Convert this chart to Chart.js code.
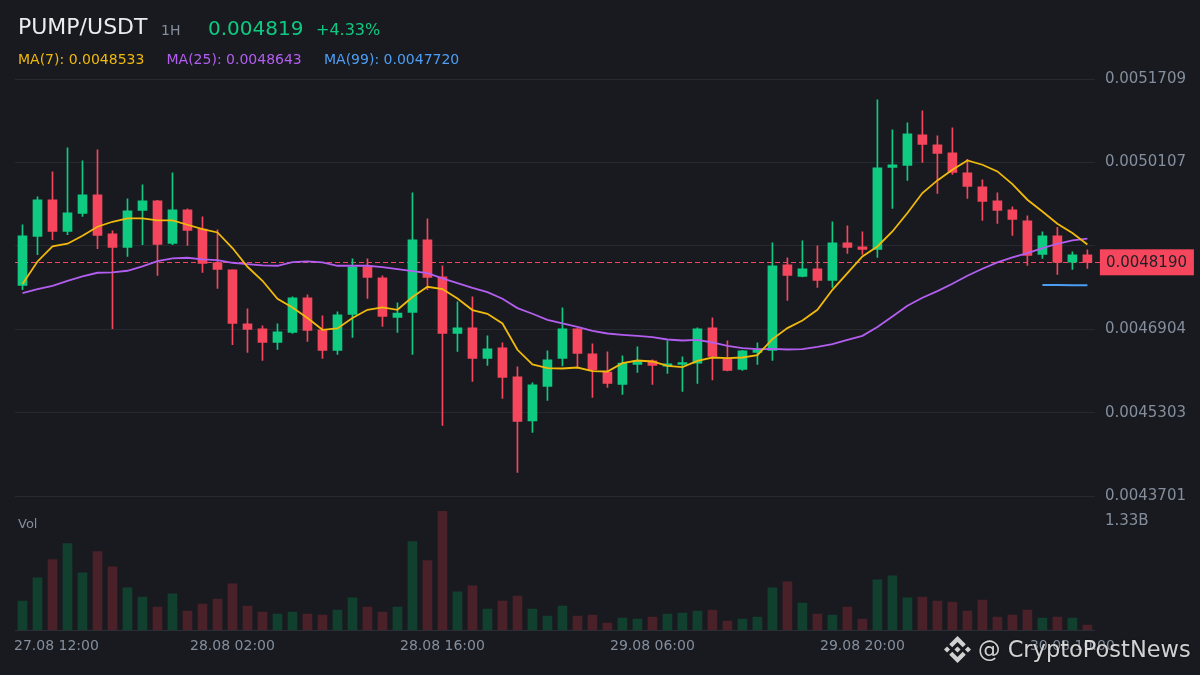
<!DOCTYPE html>
<html>
<head>
<meta charset="utf-8">
<script src="https://cdn.jsdelivr.net/npm/chart.js@4.4.0/dist/chart.umd.min.js"></script>
<style>
  html, body { margin: 0; padding: 0; background: #181a1f; }
  #wrap { position: relative; width: 1200px; height: 675px; font-family: "DejaVu Sans", sans-serif; }
  #c { position: absolute; left: 0; top: 0; }
  .t { position: absolute; line-height: 1; white-space: nowrap; }
  .wm { position: absolute; left: 944px; top: 636px; display: flex; align-items: center; opacity: 0.9; }
  .wm span { font-size: 22.5px; line-height: 1; color: #e6e6e6; margin-left: 7px; text-shadow: 0 0 2px rgba(0,0,0,0.7); }
</style>
</head>
<body>
<div id="wrap">
  <canvas id="c" width="1200" height="675"></canvas>
  <div class="t" style="left:18px;top:16px;font-size:22px;color:#eaecef;">PUMP/USDT</div>
  <div class="t" style="left:161px;top:23px;font-size:14px;color:#848e9c;">1H</div>
  <div class="t" style="left:208px;top:18px;font-size:20px;color:#0ecb81;">0.004819</div>
  <div class="t" style="left:316px;top:21.5px;font-size:16px;color:#0ecb81;">+4.33%</div>
  <div class="t" style="left:18px;top:51.5px;font-size:14px;color:#f0b90b;">MA(7): 0.0048533</div>
  <div class="t" style="left:166.5px;top:51.5px;font-size:14px;color:#b35ef0;">MA(25): 0.0048643</div>
  <div class="t" style="left:324px;top:51.5px;font-size:14px;color:#4d9ef5;">MA(99): 0.0047720</div>
  <div class="t" style="left:18px;top:517px;font-size:13px;color:#848e9c;">Vol</div>
  <div class="wm">
    <svg width="27" height="27" viewBox="0 0 126.61 126.61"><g fill="#e6e6e6">
      <path d="M38.73 53.2l24.59-24.58 24.6 24.6 14.3-14.31L63.32 0 24.42 38.9z"/>
      <path d="M0 63.31l14.3-14.31 14.31 14.31-14.31 14.3z"/>
      <path d="M38.73 73.41l24.59 24.59 24.6-24.6 14.31 14.29-38.9 38.91-38.91-38.88z"/>
      <path d="M98 63.31l14.3-14.31 14.31 14.3-14.31 14.32z"/>
      <path d="M77.83 63.3L63.32 48.78 52.59 59.51l-1.24 1.23-2.54 2.54 14.51 14.5 14.51-14.47z"/>
    </g></svg>
    <span>@ CryptoPostNews</span>
  </div>
</div>
<script>
// hourly candles, 27.08 12:00 .. 30.08 11:00
var timeLabels = [
  '27.08 12:00', '27.08 13:00', '27.08 14:00', '27.08 15:00', '27.08 16:00', '27.08 17:00',
  '27.08 18:00', '27.08 19:00', '27.08 20:00', '27.08 21:00', '27.08 22:00', '27.08 23:00',
  '28.08 00:00', '28.08 01:00', '28.08 02:00', '28.08 03:00', '28.08 04:00', '28.08 05:00',
  '28.08 06:00', '28.08 07:00', '28.08 08:00', '28.08 09:00', '28.08 10:00', '28.08 11:00',
  '28.08 12:00', '28.08 13:00', '28.08 14:00', '28.08 15:00', '28.08 16:00', '28.08 17:00',
  '28.08 18:00', '28.08 19:00', '28.08 20:00', '28.08 21:00', '28.08 22:00', '28.08 23:00',
  '29.08 00:00', '29.08 01:00', '29.08 02:00', '29.08 03:00', '29.08 04:00', '29.08 05:00',
  '29.08 06:00', '29.08 07:00', '29.08 08:00', '29.08 09:00', '29.08 10:00', '29.08 11:00',
  '29.08 12:00', '29.08 13:00', '29.08 14:00', '29.08 15:00', '29.08 16:00', '29.08 17:00',
  '29.08 18:00', '29.08 19:00', '29.08 20:00', '29.08 21:00', '29.08 22:00', '29.08 23:00',
  '30.08 00:00', '30.08 01:00', '30.08 02:00', '30.08 03:00', '30.08 04:00', '30.08 05:00',
  '30.08 06:00', '30.08 07:00', '30.08 08:00', '30.08 09:00', '30.08 10:00', '30.08 11:00'
];

var opens = [
  0.00477454, 0.00486864, 0.00493911, 0.00487824, 0.00491281, 0.00494872, 0.00487382, 0.00484751,
  0.00491857, 0.00493719, 0.00485519, 0.00491991, 0.00488285, 0.00481871, 0.00480469, 0.00470099,
  0.00469139, 0.00466508, 0.00468428, 0.00475092, 0.00468946, 0.00464971, 0.00471885, 0.00481045,
  0.00478932, 0.00471309, 0.00472269, 0.00486230, 0.00479125, 0.00468236, 0.00469331, 0.00463435,
  0.00465490, 0.00459921, 0.00451471, 0.00458058, 0.00463435, 0.00469139, 0.00464338, 0.00460823,
  0.00458442, 0.00462283, 0.00462993, 0.00461976, 0.00462283, 0.00462552, 0.00469331, 0.00463435,
  0.00461323, 0.00464587, 0.00464971, 0.00481429, 0.00479182, 0.00480661, 0.00478414, 0.00485654,
  0.00484886, 0.00484367, 0.00500114, 0.00500498, 0.00506394, 0.00504474, 0.00502937, 0.00499096,
  0.00496408, 0.00493719, 0.00491991, 0.00489879, 0.00483407, 0.00486998, 0.00481947, 0.00483349
];
var highs = [
  0.00489110, 0.00494488, 0.00499289, 0.00503897, 0.00501401, 0.00503513, 0.00487958, 0.00494103,
  0.00496792, 0.00493800, 0.00499096, 0.00492183, 0.00490647, 0.00488150, 0.00480469, 0.00472979,
  0.00469715, 0.00470099, 0.00475284, 0.00475668, 0.00471635, 0.00472403, 0.00482581, 0.00482581,
  0.00479317, 0.00474132, 0.00495256, 0.00490263, 0.00481237, 0.00474324, 0.00475284, 0.00467794,
  0.00466450, 0.00461841, 0.00458768, 0.00464914, 0.00473171, 0.00469200, 0.00466258, 0.00464722,
  0.00463954, 0.00465682, 0.00463185, 0.00466834, 0.00463761, 0.00469331, 0.00471251, 0.00466834,
  0.00465000, 0.00466450, 0.00485654, 0.00482773, 0.00486038, 0.00485078, 0.00489687, 0.00488918,
  0.00487766, 0.00513115, 0.00507354, 0.00508698, 0.00511003, 0.00506202, 0.00507738, 0.00501651,
  0.00497752, 0.00495256, 0.00492567, 0.00490839, 0.00487766, 0.00488592, 0.00483925, 0.00484310
];
var lows = [
  0.00476628, 0.00483349, 0.00486230, 0.00487190, 0.00490704, 0.00484502, 0.00469139, 0.00483023,
  0.00485270, 0.00479374, 0.00485270, 0.00485135, 0.00479950, 0.00476878, 0.00466066, 0.00464587,
  0.00463051, 0.00465163, 0.00468236, 0.00466700, 0.00463435, 0.00464203, 0.00467468, 0.00474957,
  0.00469580, 0.00468428, 0.00464203, 0.00476628, 0.00450568, 0.00464779, 0.00459018, 0.00462091,
  0.00455753, 0.00441543, 0.00449224, 0.00455369, 0.00462033, 0.00461591, 0.00455946, 0.00457866,
  0.00456522, 0.00460746, 0.00458442, 0.00460554, 0.00457098, 0.00458634, 0.00459345, 0.00461050,
  0.00461131, 0.00462283, 0.00463051, 0.00474573, 0.00479100, 0.00477070, 0.00477070, 0.00483599,
  0.00483407, 0.00482831, 0.00492241, 0.00497618, 0.00501074, 0.00495121, 0.00498770, 0.00494161,
  0.00489936, 0.00489360, 0.00487056, 0.00481295, 0.00482639, 0.00479566, 0.00480526, 0.00480718
];
var closes = [
  0.00486998, 0.00493911, 0.00487824, 0.00491415, 0.00494872, 0.00487056, 0.00484751, 0.00491799,
  0.00493719, 0.00485327, 0.00491991, 0.00488016, 0.00481679, 0.00480526, 0.00470156, 0.00469004,
  0.00466508, 0.00468562, 0.00475092, 0.00468812, 0.00464971, 0.00471827, 0.00481045, 0.00478990,
  0.00471501, 0.00472154, 0.00486230, 0.00478990, 0.00468236, 0.00469331, 0.00463435, 0.00465298,
  0.00459786, 0.00451337, 0.00458384, 0.00463185, 0.00469139, 0.00464395, 0.00461265, 0.00458634,
  0.00462552, 0.00463051, 0.00462091, 0.00462417, 0.00462667, 0.00469139, 0.00463819, 0.00461131,
  0.00464914, 0.00465106, 0.00481237, 0.00479374, 0.00480661, 0.00478414, 0.00485654, 0.00484751,
  0.00484367, 0.00500057, 0.00500633, 0.00506586, 0.00504531, 0.00502803, 0.00499154, 0.00496466,
  0.00493585, 0.00491857, 0.00490128, 0.00483215, 0.00486998, 0.00481871, 0.00483349, 0.00481900
];

// volume in millions
var volumesM = [
  327, 586, 789, 969, 642, 879, 710, 473, 372, 259, 406, 214, 293, 349, 518, 270, 203, 180,
  203, 180, 169, 225, 361, 259, 203, 259, 992, 778, 1330, 428, 496, 237, 327, 383, 237, 158,
  270, 158, 169, 79, 135, 124, 147, 180, 192, 214, 225, 101, 124, 147, 473, 541, 304, 180,
  169, 259, 124, 564, 609, 361, 372, 327, 316, 214, 338, 147, 169, 225, 135, 147, 135, 56
];

var ma7 = [
  0.00477723, 0.00482063, 0.00484943, 0.00485462, 0.00486998, 0.00488726, 0.00489687, 0.00490320,
  0.00490320, 0.00489936, 0.00489936, 0.00489110, 0.00488285, 0.00487632, 0.00484636, 0.00481045,
  0.00478356, 0.00474900, 0.00473229, 0.00471193, 0.00468946, 0.00469196, 0.00471193, 0.00472787,
  0.00473229, 0.00472787, 0.00475226, 0.00477204, 0.00476762, 0.00474957, 0.00472730, 0.00472019,
  0.00470156, 0.00465106, 0.00462283, 0.00461591, 0.00461515, 0.00461707, 0.00461015, 0.00460939,
  0.00462552, 0.00463051, 0.00462859, 0.00462033, 0.00461783, 0.00462993, 0.00463627, 0.00463512,
  0.00463627, 0.00464088, 0.00467161, 0.00469273, 0.00470713, 0.00472787, 0.00476628, 0.00479835,
  0.00483023, 0.00484943, 0.00487824, 0.00491357, 0.00495198, 0.00497618, 0.00499673, 0.00501459,
  0.00500633, 0.00499346, 0.00496926, 0.00493911, 0.00491665, 0.00489303, 0.00487517, 0.00485330
];
var ma25 = [
  0.00475994, 0.00476762, 0.00477396, 0.00478356, 0.00479182, 0.00479893, 0.00479950, 0.00480277,
  0.00481103, 0.00482140, 0.00482639, 0.00482773, 0.00482447, 0.00482332, 0.00481813, 0.00481563,
  0.00481295, 0.00481237, 0.00481947, 0.00482063, 0.00481871, 0.00481237, 0.00481237, 0.00481237,
  0.00480987, 0.00480603, 0.00480219, 0.00479835, 0.00478798, 0.00477915, 0.00477012, 0.00476186,
  0.00474900, 0.00473114, 0.00472019, 0.00470867, 0.00470156, 0.00469523, 0.00468754, 0.00468236,
  0.00467986, 0.00467794, 0.00467545, 0.00467084, 0.00466892, 0.00467026, 0.00466508, 0.00465874,
  0.00465432, 0.00465240, 0.00465298, 0.00465163, 0.00465240, 0.00465682, 0.00466200, 0.00467026,
  0.00467794, 0.00469465, 0.00471501, 0.00473555, 0.00475092, 0.00476378, 0.00477780, 0.00479317,
  0.00480661, 0.00481871, 0.00482831, 0.00483676, 0.00484636, 0.00485462, 0.00486096, 0.00486430
];
// MA(99) only shows on the last few candles
var ma99 = [
  { x: '30.08 08:00', y: 0.0047756 },
  { x: '30.08 09:00', y: 0.0047754 },
  { x: '30.08 10:00', y: 0.0047751 },
  { x: '30.08 11:00', y: 0.0047748 }
];

var priceTicks = [0.0043701, 0.0045303, 0.0046904, 0.0048506, 0.0050107, 0.0051709];
var volTicks = [1330];

var UP = '#0ecb81', DOWN = '#f6465d';
var UP_VOL = '#12402f', DOWN_VOL = '#4a2129';
var GREY = '#848e9c';

var lastPrice = closes[closes.length - 1];
var isUp = closes.map(function (c, i) { return c >= opens[i]; });

Chart.defaults.font.family = '"DejaVu Sans", sans-serif';

var pricePlugin = {
  id: 'pricePlugin',
  beforeDatasetsDraw: function (chart) {
    var ctx = chart.ctx, area = chart.chartArea;
    var y = Math.round(chart.scales.y.getPixelForValue(lastPrice)) + 0.5;
    ctx.save();
    ctx.strokeStyle = DOWN;
    ctx.lineWidth = 1;
    ctx.setLineDash([5, 3]);
    ctx.beginPath();
    ctx.moveTo(area.left, y);
    ctx.lineTo(area.right + 5, y);
    ctx.stroke();
    ctx.restore();
  },
  afterDraw: function (chart) {
    var ctx = chart.ctx, area = chart.chartArea;
    var y = chart.scales.y.getPixelForValue(lastPrice);
    ctx.save();
    ctx.fillStyle = DOWN;
    ctx.fillRect(area.right + 5, y - 13, 94, 26);
    ctx.fillStyle = '#1e2026';
    ctx.font = '15px "DejaVu Sans"';
    ctx.textBaseline = 'middle';
    ctx.fillText(lastPrice.toFixed(7), area.right + 11, y + 1);

    // the first time label sits flush with the left edge
    var xs = chart.scales.x;
    ctx.fillStyle = GREY;
    ctx.font = '14px "DejaVu Sans"';
    ctx.fillText(timeLabels[0], area.left - 1, xs.top + 8 + 8.4);
    ctx.restore();
  }
};

new Chart(document.getElementById('c'), {
  type: 'bar',
  data: {
    labels: timeLabels,
    datasets: [
      {
        type: 'line', label: 'MA(7)', data: ma7, yAxisID: 'y',
        borderColor: '#f0b90b', borderWidth: 1.8, pointRadius: 0, tension: 0, order: 0
      },
      {
        type: 'line', label: 'MA(25)', data: ma25, yAxisID: 'y',
        borderColor: '#b35ef0', borderWidth: 1.8, pointRadius: 0, tension: 0, order: 0
      },
      {
        type: 'line', label: 'MA(99)', data: ma99, yAxisID: 'y',
        borderColor: '#4a9ef5', borderWidth: 2, pointRadius: 0, tension: 0, order: 0
      },
      {
        label: 'body',
        data: opens.map(function (o, i) { return [o, closes[i]]; }),
        yAxisID: 'y',
        backgroundColor: isUp.map(function (u) { return u ? UP : DOWN; }),
        barThickness: 9, grouped: false, minBarLength: 1, order: 1
      },
      {
        label: 'wick',
        data: lows.map(function (l, i) { return [l, highs[i]]; }),
        yAxisID: 'y',
        backgroundColor: isUp.map(function (u) { return u ? UP : DOWN; }),
        barThickness: 1, grouped: false, order: 2
      },
      {
        label: 'volume', data: volumesM, yAxisID: 'yVol',
        backgroundColor: isUp.map(function (u) { return u ? UP_VOL : DOWN_VOL; }),
        barThickness: 9, grouped: false, order: 3
      }
    ]
  },
  options: {
    responsive: false,
    animation: false,
    devicePixelRatio: 1,
    layout: { padding: { top: 79, right: 4, bottom: 12, left: 15 } },
    plugins: { legend: { display: false }, tooltip: { enabled: false } },
    scales: {
      x: {
        offset: true,
        grid: { display: false, drawTicks: false },
        border: { display: true, color: '#2b2f36' },
        ticks: {
          autoSkip: false, maxRotation: 0, padding: 8, color: GREY,
          font: { size: 14 },
          callback: function (v, i) { return (i > 0 && i % 14 === 0) ? timeLabels[i] : ''; }
        }
      },
      y: {
        position: 'right', stack: 'pane', stackWeight: 417,
        min: priceTicks[0], max: priceTicks[priceTicks.length - 1],
        afterBuildTicks: function (axis) {
          axis.ticks = priceTicks.map(function (v) { return { value: v }; });
        },
        grid: { color: '#262930', drawTicks: false },
        border: { display: false },
        ticks: {
          padding: 10, color: GREY, font: { size: 15 },
          callback: function (v) { return Math.abs(v - lastPrice) < 0.00005 ? '' : v.toFixed(7); }
        }
      },
      yVol: {
        position: 'right', stack: 'pane', stackWeight: 134,
        min: 0, max: 1500,
        afterBuildTicks: function (axis) {
          axis.ticks = volTicks.map(function (v) { return { value: v }; });
        },
        grid: { display: false, drawTicks: false },
        border: { display: false },
        ticks: {
          padding: 10, labelOffset: 10, color: GREY, font: { size: 15 },
          callback: function (v) { return (v / 1000).toFixed(2) + 'B'; }
        }
      }
    }
  },
  plugins: [pricePlugin]
});
</script>
</body>
</html>
